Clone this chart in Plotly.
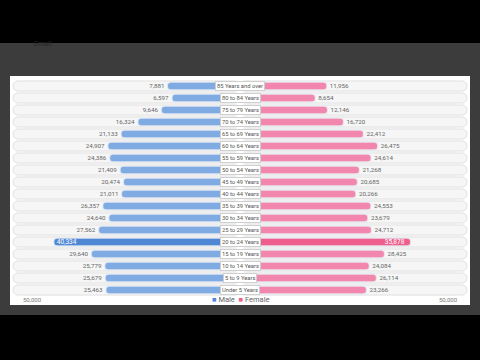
import plotly.graph_objects as go

# ---------------- data ----------------
age_groups = ["85 Years and over", "80 to 84 Years", "75 to 79 Years", "70 to 74 Years",
              "65 to 69 Years", "60 to 64 Years", "55 to 59 Years", "50 to 54 Years",
              "45 to 49 Years", "40 to 44 Years", "35 to 39 Years", "30 to 34 Years",
              "25 to 29 Years", "20 to 24 Years", "15 to 19 Years", "10 to 14 Years",
              "5 to 9 Years", "Under 5 Years"]
male = [7881, 6597, 9646, 16324, 21133, 24907, 24386, 21409, 20474, 21011,
        26357, 24640, 27562, 40334, 29640, 25779, 25679, 25463]
female = [11956, 8654, 12146, 16720, 22412, 26475, 24614, 21268, 20685, 20266,
          24553, 23679, 24712, 35878, 28425, 24084, 26114, 23266]
axis_max_label = "50,000"
AXIS_MAX = 50000
highlight = "20 to 24 Years"

# ---------------- geometry / style ----------------
W, H = 480, 360
PX_PER_UNIT = 3.5 / 1000          # pixels per person
R = (W / 2) / PX_PER_UNIT          # half range of x axis
GAP = 45 / PX_PER_UNIT             # space under the centre label
TRACK = AXIS_MAX + GAP + 2000
ROW_PX = 12
FIRST_ROW_Y = 86

MALE_C, MALE_HI = "#80abe2", "#4f87d5"
FEM_C, FEM_HI = "#f386ac", "#ef5f8e"

n = len(age_groups)
is_hi = [a == highlight for a in age_groups]
male_colors = [MALE_HI if h else MALE_C for h in is_hi]
fem_colors = [FEM_HI if h else FEM_C for h in is_hi]

fig = go.Figure()

# background tracks
for sign in (-1, 1):
    fig.add_trace(go.Bar(
        y=age_groups, x=[sign * TRACK] * n, base=0, orientation="h",
        marker=dict(color="#f6f6f6", line=dict(color="#e0e0e0", width=1), cornerradius=5),
        width=0.84, showlegend=False, hoverinfo="skip"))


def add_side(name, values, colors, sign):
    lengths = [sign * (v + GAP) for v in values]
    # the bars, with outside value labels
    fig.add_trace(go.Bar(
        name=name, y=age_groups, x=lengths, base=0, orientation="h",
        marker=dict(color=colors, cornerradius=4), width=0.64,
        text=["" if h else f"{v:,}" for v, h in zip(values, is_hi)],
        textposition="outside", textangle=0,
        textfont=dict(size=6.5, color="#666666", family="Roboto"),
        cliponaxis=False, showlegend=False,
        customdata=values, hovertemplate="%{y}: %{customdata:,}<extra>" + name + "</extra>"))
    # transparent twin carrying the inside (white) label of the highlighted bar
    fig.add_trace(go.Bar(
        y=age_groups, x=lengths, base=0, orientation="h",
        marker=dict(color="rgba(0,0,0,0)"), width=0.64,
        text=[f"{v:,}  " if h else "" for v, h in zip(values, is_hi)],
        textposition="inside", insidetextanchor="end", textangle=0, constraintext="none",
        textfont=dict(size=6.5, color="white", family="Roboto"),
        showlegend=False, hoverinfo="skip"))


add_side("Male", male, male_colors, -1)
add_side("Female", female, fem_colors, 1)

# centre labels
for a in age_groups:
    fig.add_annotation(x=0, y=a, xref="x", yref="y", text=a, showarrow=False,
                       font=dict(size=5.8, color="#555555", family="Roboto"),
                       bgcolor="white", bordercolor="#cfcfcf", borderwidth=1, borderpad=1)

# axis end labels and legend
y_bottom = 1 - 299 / H
fig.add_annotation(x=21 / W, y=y_bottom, xref="paper", yref="paper", text=axis_max_label,
                   xanchor="left", yanchor="middle", showarrow=False,
                   font=dict(size=6, color="#777", family="Roboto"))
fig.add_annotation(x=460 / W, y=y_bottom, xref="paper", yref="paper", text=axis_max_label,
                   xanchor="right", yanchor="middle", showarrow=False,
                   font=dict(size=6, color="#777", family="Roboto"))
fig.add_annotation(x=0.5, y=y_bottom, xref="paper", yref="paper", showarrow=False,
                   xanchor="center", yanchor="middle",
                   text=f'<span style="color:{MALE_HI}">■</span> Male  '
                        f'<span style="color:{FEM_HI}">■</span> Female',
                   font=dict(size=7.5, color="#666", family="Roboto"))
fig.add_annotation(x=32 / W, y=1 - 44 / H, xref="paper", yref="paper", text="Email",
                   xanchor="left", yanchor="middle", showarrow=False,
                   font=dict(size=7, color="#262626", family="Roboto"))

# page background: black letterbox, gray band, white panel
fig.add_shape(type="rect", xref="paper", yref="paper", x0=0, x1=1,
              y0=1 - 315 / H, y1=1 - 43 / H, fillcolor="#3b3c3b", line_width=0, layer="below")
fig.add_shape(type="rect", xref="paper", yref="paper", x0=10 / W, x1=470 / W,
              y0=1 - 305 / H, y1=1 - 76 / H, fillcolor="white", line_width=0, layer="below")

y_top_idx = -FIRST_ROW_Y / ROW_PX
y_bot_idx = (H - FIRST_ROW_Y) / ROW_PX
fig.update_layout(
    width=W, height=H, margin=dict(l=0, r=0, t=0, b=0),
    paper_bgcolor="black", plot_bgcolor="rgba(0,0,0,0)",
    barmode="overlay", showlegend=False,
    xaxis=dict(range=[-R, R], visible=False, fixedrange=True),
    yaxis=dict(type="category", categoryorder="array", categoryarray=age_groups,
               range=[y_bot_idx, y_top_idx], visible=False, fixedrange=True),
)

fig.write_html("out.html", config={"displayModeBar": False},
               post_script="document.body.style.margin='0';document.body.style.overflow='hidden';")
